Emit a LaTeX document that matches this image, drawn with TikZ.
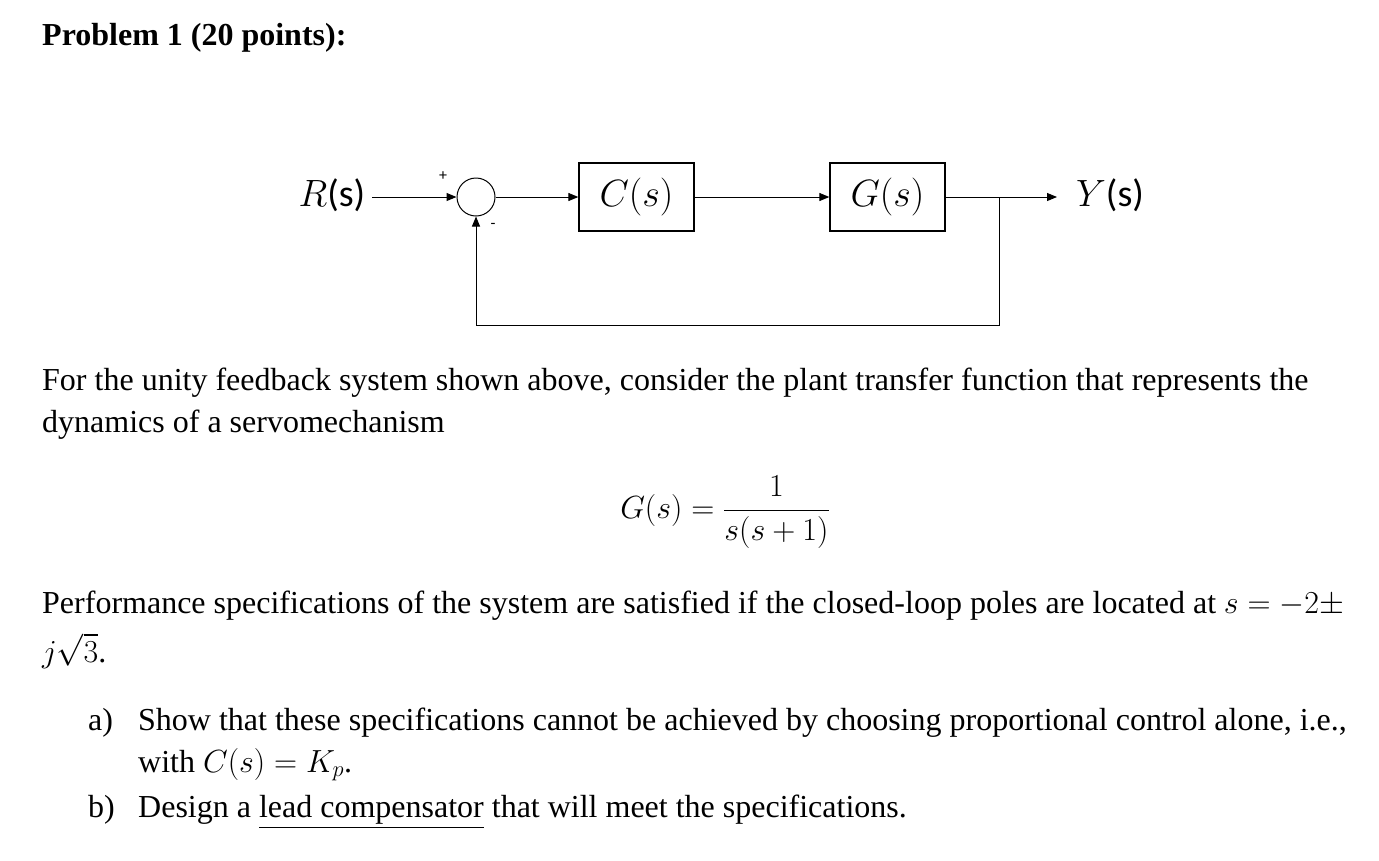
\RequirePackage{fix-cm}
\documentclass[tikz,border=0pt]{standalone}
\usepackage{amsmath}
\usepackage{fontspec}
\setmainfont{Liberation Serif}
\newfontfamily\diag{Carlito}
\usetikzlibrary{arrows.meta}
\begin{document}
\begin{tikzpicture}[x=1pt,y=-1pt,
  txt/.style={anchor=base west,inner sep=0,font=\fontsize{32}{36}\selectfont},
  blk/.style={draw,line width=1.3pt,minimum width=115pt,minimum height=68pt,inner sep=0,font=\fontsize{38}{42}\selectfont},
  sig/.style={inner sep=0,font=\diag\fontsize{38}{42}\selectfont},
  ln/.style={line width=1pt},
  arr/.style={ln,-{Triangle[length=10pt,width=8pt]}}]
\useasboundingbox (0,0) rectangle (1379,860);
\node[txt,font=\bfseries\fontsize{32}{36}\selectfont] (title) at (42,45) {Problem 1 (20 points):};
% diagram
\node[sig] (R) at (332,195) {$R$(s)};
\node[draw,circle,ln,minimum size=38pt,inner sep=0] (sum) at (476,197) {};
\node[blk] (C) at (636.5,197) {$C(s)$};
\node[blk] (G) at (887.5,197) {$G(s)$};
\node[sig] (Y) at (1110,195) {$Y$(s)};
\node[font=\diag\fontsize{16}{16}\selectfont] (plus) at (443,176) {+};
\node[font=\diag\fontsize{16}{16}\selectfont] (minus) at (493,226) {-};
\coordinate (rs) at (372,197);
\coordinate (br) at (999,197);
\coordinate (b1) at (999,325);
\coordinate (b2) at (476,325);
\coordinate (yend) at (1057,197);
\draw[arr] (rs) -- (sum.west);
\draw[arr] (sum.east) -- (C.west);
\draw[arr] (C.east) -- (G.west);
\draw[arr] (G.east) -- (yend);
\draw[ln] (br) -- (b1) -- (b2);
\draw[arr] (b2) -- (sum.south);
% text
\node[txt] (p1) at (42,390) {For the unity feedback system shown above, consider the plant transfer function that represents the};
\node[txt] (p2) at (42,432) {dynamics of a servomechanism};
\node[anchor=center,inner sep=0,font=\fontsize{32}{36}\selectfont] (eq) at (725,512) {$G(s)=\dfrac{1}{s(s+1)}$};
\node[txt] (p3) at (42,613) {Performance specifications of the system are satisfied if the closed-loop poles are located at $s=-2\pm$};
\node[txt] (p4) at (42,662) {$j\sqrt{3}$.};
\node[txt] (a) at (88,730) {a)};
\node[txt] (a1) at (138,730) {Show that these specifications cannot be achieved by choosing proportional control alone, i.e.,};
\node[txt] (a2) at (138,772) {with $C(s)=K_p$.};
\node[txt] (b) at (88,817) {b)};
\node[txt] (b1t) at (138,817) {Design a \underline{lead compensator} that will meet the specifications.};
\end{tikzpicture}
\end{document}
